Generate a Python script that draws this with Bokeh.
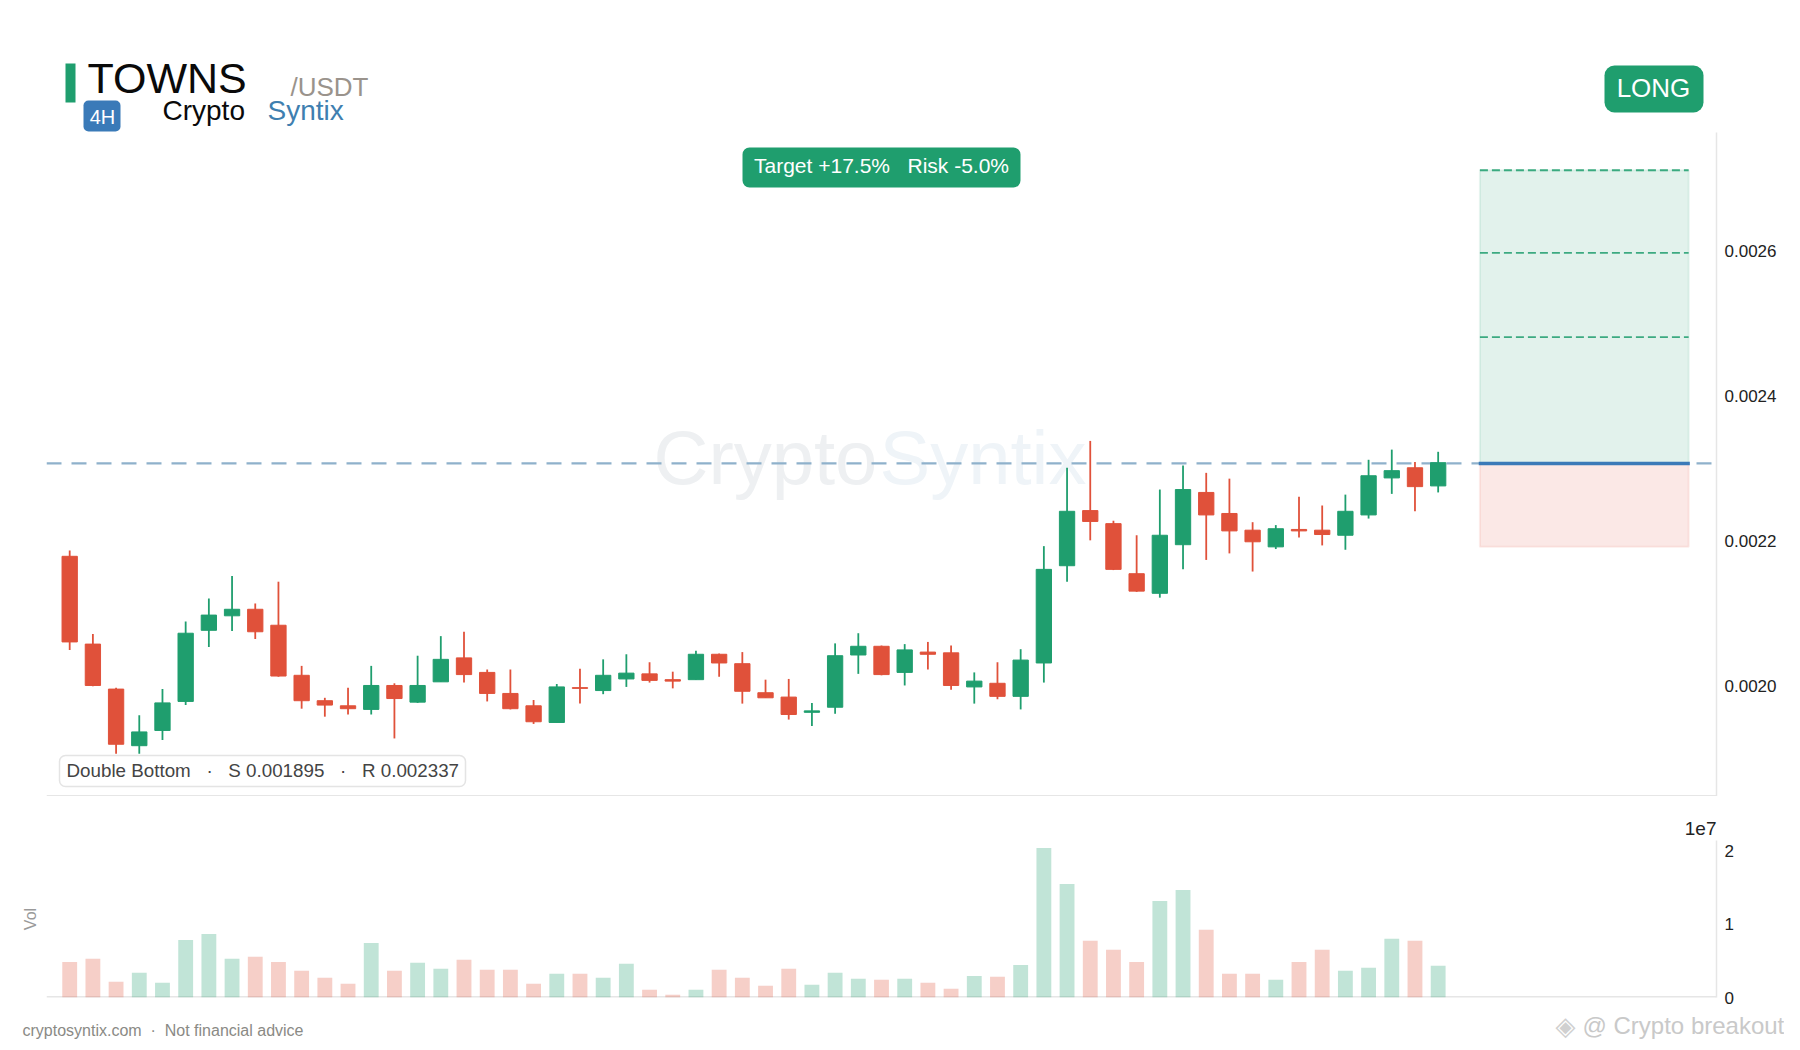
from bokeh.plotting import figure
from bokeh.layouts import column
from bokeh.models import Range1d, FixedTicker, Label, BoxAnnotation, PrintfTickFormatter, ColumnDataSource, LinearAxis
from bokeh.embed import file_html
from bokeh.resources import INLINE

opens = [.002179,.002058,.001996,.001918,.001939,.001979,.002077,.002097,.002106,.002084,
         .002015,.001980,.001973,.001968,.002001,.001978,.002006,.002039,.002019,.001990,
         .001973,.001950,.001998,.001994,.002010,.002017,.002009,.002009,.002044,.002031,
         .001991,.001985,.001964,.001971,.002043,.002055,.002019,.002047,.002046,.001999,
         .002004,.001986,.002032,.002166,.002242,.002224,.002155,.002128,.002195,.002267,
         .002238,.002215,.002192,.002216,.002215,.002208,.002236,.002287,.002301,.002276]
closes = [.002061,.002001,.001920,.001937,.001977,.002073,.002098,.002106,.002075,.002014,
          .001980,.001974,.001969,.002001,.001983,.002001,.002037,.002016,.001990,.001969,
          .001951,.001999,.001997,.002015,.002018,.002008,.002007,.002044,.002032,.001993,
          .001984,.001961,.001966,.002042,.002055,.002016,.002050,.002044,.002001,.002007,
          .001986,.002036,.002161,.002241,.002227,.002161,.002131,.002208,.002271,.002236,
          .002214,.002199,.002217,.002214,.002209,.002241,.002290,.002297,.002275,.002308]
highs = [.002187,.002072,.001998,.001960,.001996,.002089,.002121,.002152,.002114,.002144,
         .002028,.001984,.001998,.002028,.002004,.002042,.002069,.002075,.002023,.002023,
         .001981,.002003,.002024,.002037,.002044,.002033,.002020,.002049,.002045,.002047,
         .002009,.002010,.001977,.002059,.002073,.002056,.002058,.002061,.002056,.002019,
         .002033,.002051,.002193,.002301,.002338,.002228,.002208,.002271,.002304,.002294,
         .002286,.002226,.002222,.002261,.002249,.002264,.002312,.002326,.002309,.002323]
lows = [.002050,.002000,.001907,.001907,.001926,.001974,.002054,.002076,.002065,.002013,
        .001969,.001958,.001961,.001961,.001928,.001977,.002006,.002005,.001979,.001968,
        .001948,.001950,.001976,.001989,.001999,.002005,.001997,.002009,.002013,.001976,
        .001984,.001954,.001945,.001962,.002017,.002015,.002001,.002023,.001995,.001976,
        .001982,.001968,.002005,.002144,.002201,.002160,.002130,.002122,.002161,.002174,
        .002183,.002158,.002189,.002205,.002194,.002188,.002231,.002265,.002241,.002267]
volume_e7 = [.486,.527,.214,.336,.200,.786,.868,.527,.555,.486,.364,.268,.186,.745,.364,
             .473,.391,.514,.377,.377,.186,.323,.323,.268,.459,.105,.036,.105,.377,.268,
             .159,.391,.173,.336,.255,.241,.255,.200,.118,.295,.282,.445,2.04,1.55,.773,
             .650,.486,1.318,1.468,.923,.323,.323,.241,.486,.650,.364,.405,.800,.773,.432]

price_ticks = [0.0020, 0.0022, 0.0024, 0.0026]
volume_ticks = [0, 10000000, 20000000]
entry = 0.002307
stop = 0.002192
target = 0.002711
take_profits = [0.002481, 0.002597, 0.002711]
zone_x0, zone_x1 = 60.8, 69.8
price_lo, price_hi = 0.001848, 0.002763

GREEN, RED, BLUE = "#1F9E6E", "#E0513A", "#3A7AB8"
FONT = "Liberation Sans"
F_L = 46
NB = "\u00a0"
xr = (-1.0, 71.0)


def label(fig, left, bottom, t, x, y, size, color, align="left", level="overlay", font=FONT):
    fig.add_layout(Label(x=x - left, y=bottom - y, x_units="screen", y_units="screen", text=t,
                         text_font=font, text_font_size=f"{size}px", text_color=color,
                         text_align=align, text_baseline="middle", level=level))


def box(fig, left, bottom, l, r, t, b, color, radius=0, line=None):
    fig.add_layout(BoxAnnotation(left=l - left, right=r - left, top=bottom - t, bottom=bottom - b,
                                 left_units="screen", right_units="screen", top_units="screen", bottom_units="screen",
                                 fill_color=color, fill_alpha=1, line_color=line, line_width=1.5,
                                 line_alpha=1, border_radius=radius, level="overlay", editable=False))


def strip(h):
    f = figure(width=1784, height=h, output_backend="svg", toolbar_location=None, min_border=0,
               x_range=Range1d(0, 1784), y_range=Range1d(0, h), x_axis_type=None, y_axis_type=None,
               background_fill_color="white", border_fill_color="white", frame_align=False)
    f.outline_line_color = None
    f.grid.visible = False
    return f


def style_axis(a):
    a.axis_line_color = "#e6e6e6"; a.axis_line_width = 1.5
    a.major_tick_line_color = None; a.minor_tick_line_color = None
    a.major_tick_out = 0
    a.major_label_standoff = 8
    a.major_label_text_font = FONT; a.major_label_text_font_size = "17px"; a.major_label_text_color = "#222222"


# header strip: page y 0-132
header = strip(132)
box(header, 0, 132, 65, 75, 63, 102, GREEN)
label(header, 0, 132, "TOWNS", 87, 77, 43, "#0a0a0a")
label(header, 0, 132, "/USDT", 290, 86, 26, "#9a938c")
box(header, 0, 132, 83, 120, 100, 131, BLUE, radius=5)
label(header, 0, 132, "4H", 102, 116, 20, "#ffffff", align="center")
label(header, 0, 132, "Crypto", 162, 110, 28, "#0a0a0a")
label(header, 0, 132, "Syntix", 267, 110, 28, "#3F7FB0")
box(header, 0, 132, 1604, 1703, 65, 112, GREEN, radius=10)
label(header, 0, 132, "LONG", 1653, 87, 26, "#ffffff", align="center")

# price pane: page y 132-796
F_B = 796
p = figure(width=1784, height=664, output_backend="svg", toolbar_location=None,
           x_range=Range1d(*xr), y_range=Range1d(price_lo, price_hi), y_axis_location="right",
           min_border_left=46, min_border_right=68, min_border_top=0, min_border_bottom=0,
           background_fill_color="white", border_fill_color="white", frame_align=False)
p.outline_line_color = None
p.grid.visible = False
p.xaxis.visible = False
ya = p.yaxis[0]
ya.ticker = FixedTicker(ticks=price_ticks)
ya.formatter = PrintfTickFormatter(format="%.4f")
style_axis(ya)

label(p, F_L, F_B, "Crypto", 653, 457, 76, "#eef0f2", level="underlay")
label(p, F_L, F_B, "Syntix", 879, 457, 76, "#eff4f8", level="underlay")

p.line(list(xr), [price_lo, price_lo], line_color="#e6e6e6", line_width=3)
p.line(list(xr), [entry, entry], line_color="#8FB1CB", line_width=2.4, line_dash="15 10")

p.quad(left=[zone_x0], right=[zone_x1], bottom=[entry], top=[target], fill_color=GREEN, fill_alpha=0.13,
       line_color=GREEN, line_alpha=0.10, line_width=2)
p.quad(left=[zone_x0], right=[zone_x1], bottom=[stop], top=[entry], fill_color=RED, fill_alpha=0.13,
       line_color=RED, line_alpha=0.10, line_width=2)
for tp in take_profits:
    p.line([zone_x0, zone_x1], [tp, tp], line_color=GREEN, line_width=1.8, line_alpha=0.85, line_dash="8 4")
p.line([zone_x0 - 0.05, zone_x1 + 0.05], [entry, entry], line_color=BLUE, line_width=3.5)

idx = list(range(len(opens)))
colors = [GREEN if c >= o else RED for o, c in zip(opens, closes)]
src = ColumnDataSource(dict(x=idx, o=opens, c=closes, h=highs, l=lows, color=colors,
                            top=[max(a, b) for a, b in zip(opens, closes)],
                            bot=[min(a, b) for a, b in zip(opens, closes)]))
p.segment("x", "h", "x", "l", source=src, line_color="color", line_width=1.8)
p.vbar(x="x", top="top", bottom="bot", width=0.66, source=src, fill_color="color", line_color="color", line_width=1)

box(p, F_L, F_B, 742, 1020, 147, 187, GREEN, radius=7)
label(p, F_L, F_B, f"Target +17.5%{NB*3}Risk -5.0%", 881, 165, 21, "#ffffff", align="center")
box(p, F_L, F_B, 59, 465, 755, 786, "#ffffff", radius=6, line="#e4e4e4")
label(p, F_L, F_B, f"Double Bottom{NB*3}\u00b7{NB*3}S 0.001895{NB*3}\u00b7{NB*3}R 0.002337", 66, 770, 18.8, "#444444")

# gap strip with the scale note: page y 796-840
gap = strip(44)
label(gap, 0, 840, "1e7", 1716, 828, 19, "#222222", align="right")

# volume pane: page y 840-1009, baseline at 997
v = figure(width=1784, height=169, output_backend="svg", toolbar_location=None,
           x_range=Range1d(*xr), y_range=Range1d(0, 21420000), y_axis_location="right",
           min_border_left=46, min_border_right=68, min_border_top=0, min_border_bottom=12,
           background_fill_color="white", border_fill_color="white", frame_align=False)
v.outline_line_color = None
v.grid.visible = False
v.xaxis.visible = False
va = v.yaxis[0]
va.ticker = FixedTicker(ticks=volume_ticks)
va.major_label_overrides = {0: "0", 10000000: "1", 20000000: "2"}
style_axis(va)
left_axis = LinearAxis(ticker=FixedTicker(ticks=[]), axis_label="Vol", axis_line_color=None,
                       major_tick_line_color=None, minor_tick_line_color=None, major_tick_out=0,
                       axis_label_standoff=8, axis_label_text_font=FONT, axis_label_text_font_size="16px",
                       axis_label_text_font_style="normal", axis_label_text_color="#9a9a9a")
v.add_layout(left_axis, "left")
v.line(list(xr), [0, 0], line_color="#e6e6e6", line_width=3)
v.vbar(x=idx, top=[a * 1e7 for a in volume_e7], bottom=0, width=0.64, fill_color=colors, fill_alpha=0.28, line_color=None)

# footer strip: page y 1009-1040
footer = strip(31)
label(footer, 0, 1040, f"cryptosyntix.com{NB*2}\u00b7{NB*2}Not financial advice", 22, 1030, 16, "#8a8a85")
label(footer, 0, 1040, "@ Crypto breakout", 1582, 1025, 24, "#c9c9c9")
label(footer, 0, 1040, "\u25c8", 1555, 1025, 26, "#d0d0d0", font="DejaVu Sans")

open("out.html", "w").write(file_html(column(header, p, gap, v, footer, spacing=0), INLINE))
